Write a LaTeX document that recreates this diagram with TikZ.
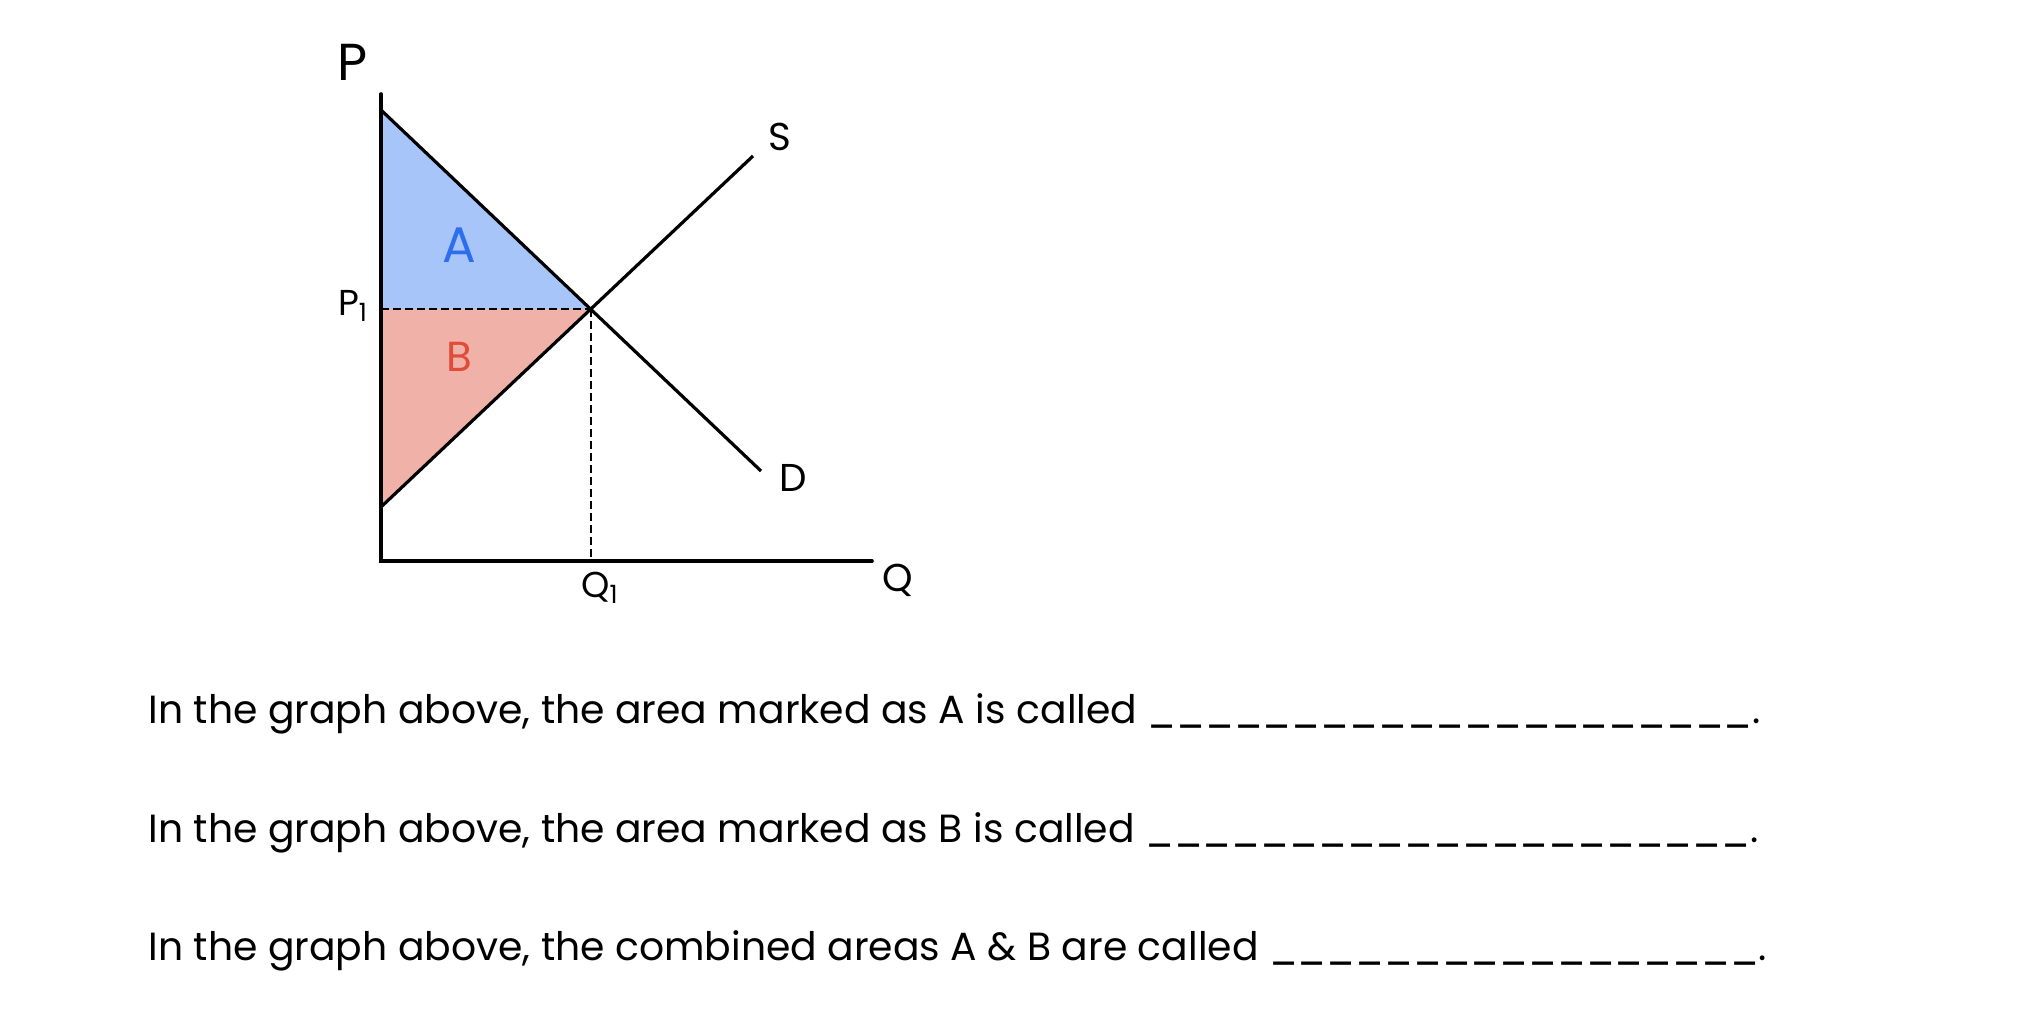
\documentclass[tikz,border=0pt]{standalone}
\usepackage{fontspec}
\setmainfont{Poppins}
\usetikzlibrary{positioning,calc}

\definecolor{csblue}{RGB}{168,197,250}
\definecolor{psred}{RGB}{240,178,168}
\definecolor{labelA}{RGB}{45,110,240}
\definecolor{labelB}{RGB}{225,75,55}

\begin{document}
\begin{tikzpicture}[
  x=0.5pt, y=-0.5pt,
  axis/.style={line width=1.8pt, line cap=round},
  curve/.style={line width=1.6pt},
  guide/.style={line width=1.4pt, dash pattern=on 4pt off 2pt},
  lbl/.style={inner sep=0pt, font=\fontsize{19.4}{20}\selectfont},
  sub/.style={inner sep=0pt, font=\fontsize{18}{18}\selectfont},
  question/.style={anchor=base west, inner sep=0pt, font=\fontsize{19.65}{20}\selectfont}
]
\useasboundingbox (0,0) rectangle (2032,1032);

\coordinate (origin) at (381,561);
\coordinate (ytop) at (381,94);
\coordinate (xend) at (872,561);
\coordinate (dtop) at (381,110);
\coordinate (dend) at (761,471);
\coordinate (sbot) at (381,507);
\coordinate (send) at (753,156);
\coordinate (eq) at (591,309);
\coordinate (p1) at (381,309);
\coordinate (q1) at (591,561);

\fill[csblue] (dtop) -- (eq) -- (p1) -- cycle;
\fill[psred] (p1) -- (eq) -- (sbot) -- cycle;

\draw[guide] (p1) -- (eq);
\draw[guide] (eq) -- (q1);
\draw[curve] (dtop) -- (dend);
\draw[curve] (sbot) -- (send);
\draw[axis] (ytop) -- (origin) -- (xend);

\node[lbl, font=\fontsize{26}{26}\selectfont] (plabel) at (353,62) {P};
\node[lbl] (slabel) at (780,137) {S};
\node[lbl] (dlabel) at (793,478) {D};
\node[lbl] (qlabel) at (898,580) {Q};
\node[sub] (p1label) at (353,306) {P\textsubscript{1}};
\node[sub] (q1label) at (600,588) {Q\textsubscript{1}};
\node[lbl, font=\fontsize{25}{25}\selectfont, text=labelA] (alabel) at (459,245) {A};
\node[lbl, font=\fontsize{21}{21}\selectfont, text=labelB] (blabel) at (459,357) {B};

\node[question] (qa) at (148,723)
  {In the graph above, the area marked as A is called \_\_\_\_\_\_\_\_\_\_\_\_\_\_\_\_\_\_\_\_\_.};
\node[question] (qb) at (148,842)
  {In the graph above, the area marked as B is called \_\_\_\_\_\_\_\_\_\_\_\_\_\_\_\_\_\_\_\_\_.};
\node[question] (qc) at (148,960)
  {In the graph above, the combined areas A \& B are called \_\_\_\_\_\_\_\_\_\_\_\_\_\_\_\_\_.};

\end{tikzpicture}
\end{document}
